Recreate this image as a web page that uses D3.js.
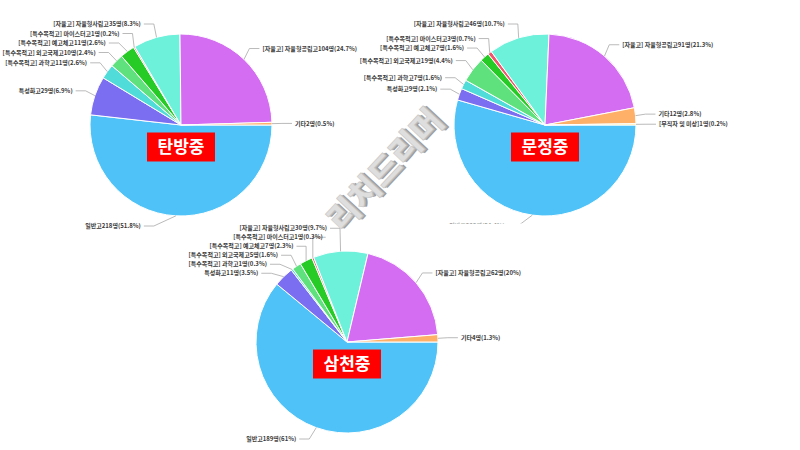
<!DOCTYPE html>
<html><head><meta charset="utf-8">
<script src="https://cdn.jsdelivr.net/npm/d3@7"></script>
<style>body{margin:0;background:#fff;} svg{display:block;}</style>
</head><body>
<svg id="c" width="800" height="450"></svg>
<script>
// ---- data ----
const categories = ["일반고","특성화고","[특수목적고] 과학고","[특수목적고] 외고국제고","[특수목적고] 예고체고","[특수목적고] 마이스터고","[자율고] 자율형사립고","[자율고] 자율형공립고","기타","[무직자 및 미상]"];
const schools = ["탄방중","문정중","삼천중"];
const tanbangCounts  = [218,29,11,10,11,1,35,104,2,0];
const munjeongCounts = [233,9,7,19,7,3,46,91,12,1];
const samcheonCounts = [189,11,1,5,7,1,30,62,4,0];
const sliceColors = ["#4FC3F7","#7B6EF0","#50DCD8","#5FE27E","#26CB26","#F2546E","#6DF1DB","#D56DF2","#FFB068","#FFE57F"];
const watermarkText = "리치드리머";

// ---- layout ----
const layouts = [
  {name:schools[0], counts:tanbangCounts,  cx:181, cy:125, r:91, minY:24,  maxY:226, h:9.5, clip:null},
  {name:schools[1], counts:munjeongCounts, cx:545, cy:125, r:91, minY:24,  maxY:226, h:9.5, clip:223.5},
  {name:schools[2], counts:samcheonCounts, cx:347, cy:342, r:91, minY:224, maxY:439, h:9,   clip:null}
];
const svg = d3.select("#c");
const defs = svg.append("defs");
const FONT = "'Noto Sans CJK KR','Noto Sans',sans-serif";

function distribute(items, h, minY, maxY){
  items.sort((a,b)=>a.ny-b.ny);
  let cl = items.map(it=>({items:[it], sum:it.ny}));
  const place = c => { const n=c.items.length; let top=c.sum/n-(n-1)*h/2; top=Math.max(minY, Math.min(maxY-(n-1)*h, top)); c.top=top; };
  let merged=true;
  while(merged){
    merged=false;
    cl.forEach(place);
    for(let i=0;i<cl.length-1;i++){
      const a=cl[i], b=cl[i+1];
      if(b.top < a.top + a.items.length*h - 0.001){
        a.items=a.items.concat(b.items); a.sum+=b.sum; cl.splice(i+1,1); merged=true; break;
      }
    }
  }
  cl.forEach(c=>c.items.forEach((it,k)=>{it.y=c.top+k*h;}));
}

layouts.forEach((L,idx)=>{
  const g = svg.append("g");
  if(L.clip!==null){
    defs.append("clipPath").attr("id","clip"+idx).append("rect").attr("x",0).attr("y",0).attr("width",800).attr("height",L.clip);
    g.attr("clip-path","url(#clip"+idx+")");
  }
  const data = categories.map((c,i)=>({cat:c, v:L.counts[i], color:sliceColors[i]})).filter(d=>d.v>0);
  const total = d3.sum(data,d=>d.v);
  const pie = d3.pie().value(d=>d.v).sort(null).startAngle(Math.PI/2).endAngle(Math.PI/2+2*Math.PI);
  const arcs = pie(data);
  const arc = d3.arc().innerRadius(0).outerRadius(L.r);
  const pg = g.append("g").attr("transform",`translate(${L.cx},${L.cy})`);
  pg.selectAll("path").data(arcs).join("path")
    .attr("d",arc).attr("fill",d=>d.data.color).attr("stroke","#fff").attr("stroke-width",1);

  const Rl = L.r + 15;
  const labels = arcs.map(a=>{
    const m = (a.startAngle+a.endAngle)/2;
    const mm = ((m%(2*Math.PI))+2*Math.PI)%(2*Math.PI);
    const side = (mm>0 && mm<Math.PI) ? 1 : -1;
    const pct = Math.round(a.data.v/total*1000)/10;
    return {a, m, side, ny: L.cy - Rl*Math.cos(m),
      ex: L.cx + L.r*Math.sin(m), ey: L.cy - L.r*Math.cos(m),
      text: a.data.cat + a.data.v + "명(" + pct + "%)"};
  });
  [1,-1].forEach(s=>distribute(labels.filter(l=>l.side===s), L.h, L.minY, L.maxY));
  const lg = g.append("g");
  labels.forEach(l=>{
    const dy = l.y - L.cy;
    const sq = Math.sqrt(Math.max(0, Rl*Rl - dy*dy));
    const dx = Math.max(sq + 8, 20);
    const tx = L.cx + l.side*dx;
    const ls = tx - l.side*3;
    let bx = ls - l.side*10;
    if(l.side<0) bx = Math.min(bx, l.ex); else bx = Math.max(bx, l.ex);
    lg.append("path").attr("d",`M${ls},${l.y}L${bx},${l.y}L${l.ex},${l.ey}`)
      .attr("fill","none").attr("stroke","#a8a8a8").attr("stroke-width",0.8);
    lg.append("text").attr("x",tx).attr("y",l.y).attr("dy","0.35em")
      .attr("text-anchor", l.side<0 ? "end" : "start")
      .attr("font-family",FONT).attr("font-size",6.0).attr("font-weight",700).attr("fill","#3a3a3a")
      .text(l.text);
  });
  // school name badge
  const bw=68, bh=29, by=L.cy+22;
  g.append("rect").attr("x",L.cx-bw/2).attr("y",by-bh/2).attr("width",bw).attr("height",bh).attr("fill","#FF0000");
  g.append("text").attr("x",L.cx).attr("y",by).attr("dy","0.36em").attr("text-anchor","middle")
    .attr("font-family",FONT).attr("font-size",17).attr("font-weight",700).attr("fill","#fff").text(L.name);
});

// watermark
const wm = svg.append("g").attr("transform","translate(385,170) rotate(-47)");
[[2.4,"#9c9c9c"],[1.2,"#b4b4b4"]].forEach(([o,c])=>{
  wm.append("text").attr("x",o).attr("y",o).attr("dy","0.36em").attr("text-anchor","middle")
    .attr("font-family",FONT).attr("font-size",33).attr("font-weight",900).attr("fill",c).text(watermarkText);
});
wm.append("text").attr("x",0).attr("y",0).attr("dy","0.36em").attr("text-anchor","middle")
  .attr("font-family",FONT).attr("font-size",33).attr("font-weight",900).attr("fill","#dedede")
  .attr("stroke","#c6c6c6").attr("stroke-width",0.6).text(watermarkText);
</script>
</body></html>
